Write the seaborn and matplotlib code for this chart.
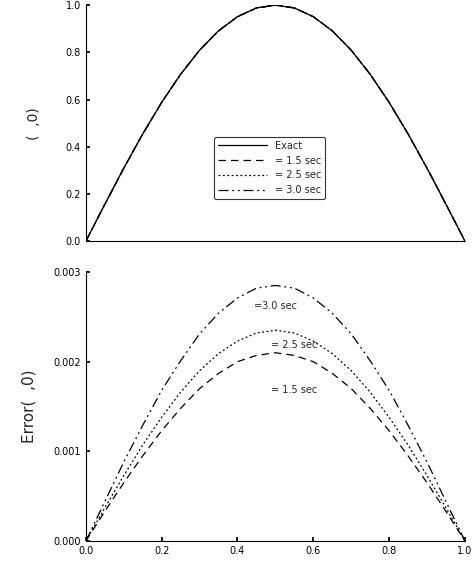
import matplotlib
matplotlib.use("Agg")
import matplotlib.pyplot as plt
import seaborn as sns
import pandas as pd

sns.set_theme(style="white")
plt.rcParams['font.family'] = ['DejaVu Sans']

x = [0,0.05,0.1,0.15,0.2,0.25,0.3,0.35,0.4,0.45,0.5,0.55,0.6,0.65,0.7,0.75,0.8,0.85,0.9,0.95,1.0]
exact_half = [0,0.156,0.309,0.454,0.588,0.707,0.809,0.891,0.951,0.988,1.0]
exact = exact_half + exact_half[-2::-1]
e15_half = [0,0.00033,0.00065,0.00095,0.00123,0.00148,0.0017,0.00187,0.002,0.00207,0.0021]
e25_half = [0,0.00037,0.00073,0.00107,0.00138,0.00166,0.0019,0.00209,0.00223,0.00232,0.00235]
e30_half = [0,0.00044,0.00088,0.00129,0.00168,0.00201,0.00231,0.00254,0.00271,0.00282,0.00285]
e15 = e15_half + e15_half[-2::-1]
e25 = e25_half + e25_half[-2::-1]
e30 = e30_half + e30_half[-2::-1]
labels = ["Exact", "= 1.5 sec", "= 2.5 sec", "= 3.0 sec"]
styles = ["-", (0, (6, 4)), (0, (1.5, 2)), (0, (8, 3, 1.5, 3, 1.5, 3))]

fig = plt.figure(figsize=(4.74, 5.69), dpi=100)
ax1 = fig.add_axes([0.181, 0.576, 0.80, 0.415])
ax2 = fig.add_axes([0.181, 0.049, 0.80, 0.473])

for ys, lab, ls in zip([exact, exact, exact, exact], labels, styles):
    sns.lineplot(x=x, y=ys, ax=ax1, color="black", lw=0.9, linestyle=ls, label=lab)
for ys, ls in zip([e15, e25, e30], styles[1:]):
    sns.lineplot(x=x, y=ys, ax=ax2, color="black", lw=0.9, linestyle=ls)

leg = ax1.legend(loc="center", bbox_to_anchor=(0.485, 0.31), fontsize=7, frameon=True,
                 edgecolor="black", fancybox=True, handlelength=5)
leg.get_frame().set_linewidth(0.8)

ax1.set_xlim(0, 1); ax1.set_ylim(0, 1.0)
ax1.set_yticks([0, 0.2, 0.4, 0.6, 0.8, 1.0])
ax1.set_yticklabels(["0.0", "0.2", "0.4", "0.6", "0.8", "1.0"])
ax1.set_xticks([])
ax1.set_ylabel("(  ,0)", fontsize=10, labelpad=18)

ax2.set_xlim(0, 1); ax2.set_ylim(0, 0.003)
ax2.set_yticks([0, 0.001, 0.002, 0.003])
ax2.set_yticklabels(["0.000", "0.001", "0.002", "0.003"])
ax2.set_xticks([0, 0.2, 0.4, 0.6, 0.8, 1.0])
ax2.set_xticklabels(["0.0", "0.2", "0.4", "0.6", "0.8", "1.0"])
ax2.set_ylabel("Error(  ,0)", fontsize=11, labelpad=12)
ax2.text(0.5, 0.00262, "=3.0 sec", fontsize=7, ha="center", va="center")
ax2.text(0.55, 0.00219, "= 2.5 sec", fontsize=7, ha="center", va="center")
ax2.text(0.55, 0.00168, "= 1.5 sec", fontsize=7, ha="center", va="center")

for ax in (ax1, ax2):
    for s in ("top", "right"):
        ax.spines[s].set_visible(False)
    for s in ("left", "bottom"):
        ax.spines[s].set_color("black"); ax.spines[s].set_linewidth(0.8)
    ax.tick_params(labelsize=7, direction="in", length=3, left=True, bottom=True, colors="black")

fig.savefig("out.png", dpi=100)
